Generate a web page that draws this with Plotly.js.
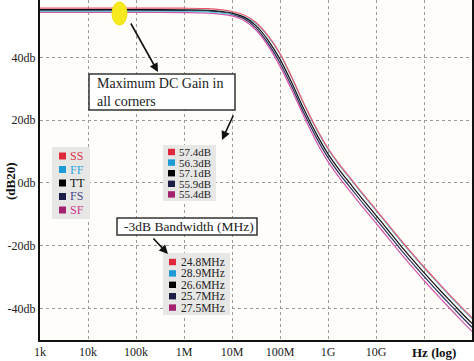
<!DOCTYPE html>
<html><head><meta charset="utf-8">
<script src="https://cdn.plot.ly/plotly-3.0.1.min.js"></script>
<style>html,body{margin:0;padding:0;background:#fff}#chart{width:474px;height:361px}</style>
</head><body><div id="chart"></div>
<script>
// ---- data ----
const freqHz = [1e3, 1e4, 1e5, 1e6, 3.16e6, 6.31e6, 1e7, 1.78e7, 3.16e7, 5.62e7, 1e8, 1.78e8, 3.16e8, 5.62e8, 1e9, 1.78e9, 3.16e9, 5.62e9, 1e10, 1.78e10, 3.16e10, 5.62e10, 1e11, 1.78e11, 3.16e11, 5.62e11, 1e12];
const gainSS = [55.8, 55.8, 55.8, 55.75, 55.6, 55.2, 54.7, 53.6, 51.2, 47.0, 41.3, 33.6, 25.3, 17.7, 11.1, 5.7, 0.9, -3.9, -8.5, -13.2, -17.9, -22.4, -26.8, -31.0, -35.1, -39.1, -43.0];
const gainFF = [54.8, 54.8, 54.8, 54.75, 54.6, 54.2, 53.9, 53.0, 50.95, 46.8, 41.1, 33.4, 25.1, 17.4, 10.8, 5.4, 0.6, -4.2, -8.8, -13.5, -18.2, -22.7, -27.1, -31.3, -35.4, -39.4, -43.3];
const gainTT = [55.3, 55.3, 55.3, 55.25, 55.1, 54.7, 54.2, 52.9, 50.2, 45.6, 39.5, 31.8, 23.5, 15.9, 9.3, 3.9, -0.9, -5.7, -10.3, -15.0, -19.7, -24.2, -28.6, -32.8, -36.9, -40.9, -44.8];
const gainFS = [55.0, 55.0, 55.0, 54.95, 54.8, 54.4, 53.8, 52.4, 49.5, 44.6, 38.3, 30.6, 22.3, 14.7, 8.1, 2.7, -2.1, -6.9, -11.5, -16.2, -20.9, -25.4, -29.8, -34.0, -38.1, -42.1, -46.0];
const gainSF = [54.4, 54.4, 54.4, 54.35, 54.2, 53.8, 53.3, 51.85, 48.8, 43.8, 37.2, 29.5, 21.2, 13.4, 6.8, 1.4, -3.4, -8.2, -12.8, -17.5, -22.2, -26.7, -31.1, -35.3, -39.4, -43.4, -47.3];

const corners = ['SS', 'FF', 'TT', 'FS', 'SF'];
const dcGainDB = [57.4, 56.3, 57.1, 55.9, 55.4];
const bandwidthMHz = [24.8, 28.9, 26.6, 25.7, 27.5];

const xTickVals = [1e3, 1e4, 1e5, 1e6, 1e7, 1e8, 1e9, 1e10, 1e11, 1e12];
const xTickText = ['1k', '10k', '100k', '1M', '10M', '100M', '1G', '10G', '', ''];
const yTickVals = [-40, -20, 0, 20, 40];
const yTickText = ['-40db', '-20db', '0db', '20db', '40db'];

// ---- styles ----
const lineColors = ['#e4566e', '#62c3d8', '#111111', '#2b2e60', '#d454a8'];
const squareColors = ['#e0283c', '#1e9ad6', '#000000', '#1b1f46', '#a3216f'];
const nameColors = ['#d8344a', '#2ea6dc', '#111111', '#4b4887', '#cc3a8c'];
const series = [gainSS, gainFF, gainTT, gainFS, gainSF];
const FONT = '"Liberation Serif", "Times New Roman", serif';

// plot-area pixel helpers (layout only)
const L = 40, R = 472, T = 0, B = 340;
const px = v => (v - L) / (R - L);
const py = v => (B - v) / (B - T);

const drawOrder = [4, 3, 1, 0, 2];
const traces = drawOrder.map(i => ({
  x: freqHz, y: series[i], type: 'scatter', mode: 'lines', name: corners[i],
  line: {color: lineColors[i], width: 1.2, shape: 'spline', smoothing: 0.8},
  hoverinfo: 'skip'
}));

const shapes = [];
const annotations = [];

function rect(x0, y0, x1, y1, fill, line, lw) {
  shapes.push({type: 'rect', xref: 'paper', yref: 'paper', x0: px(x0), x1: px(x1), y0: py(y1), y1: py(y0),
    fillcolor: fill, line: {color: line || 'rgba(0,0,0,0)', width: lw || 0}, layer: 'above'});
}
function text(x, y, t, color, size, extra) {
  annotations.push(Object.assign({xref: 'paper', yref: 'paper', x: px(x), y: py(y), text: t, showarrow: false,
    xanchor: 'left', yanchor: 'middle', borderpad: 0, font: {family: FONT, size: size || 12, color: color || '#222'}}, extra || {}));
}
function arrow(x0, y0, x1, y1) {
  annotations.push({xref: 'paper', yref: 'paper', x: px(x1), y: py(y1), ax: x0 - x1, ay: y0 - y1, text: '',
    showarrow: true, arrowhead: 2, arrowsize: 1.1, arrowwidth: 1.6, arrowcolor: '#111'});
}

// yellow marker ellipse
shapes.push({type: 'circle', xref: 'paper', yref: 'paper', x0: px(112), x1: px(127), y0: py(25), y1: py(2),
  fillcolor: '#f6ea1e', line: {color: '#f0e010', width: 1}, layer: 'above'});
arrow(130, 22, 158, 72);

// "Maximum DC Gain" box
rect(89, 74, 235, 110, '#ffffff', '#333', 1.5);
text(96, 92, 'Maximum DC Gain in<br>all corners', '#222', 14, {align: 'left'});
arrow(234, 114, 222, 140);

// corner legend
rect(52, 147, 90, 219, '#e7e7e6');
corners.forEach((c, i) => {
  const y = 156 + i * 13.5;
  rect(59, y - 3.5, 66, y + 3.5, squareColors[i]);
  text(69, y, c, nameColors[i], 12);
});

// DC gain legend
rect(163, 145, 216, 201, '#e7e7e6');
dcGainDB.forEach((g, i) => {
  const y = 152 + i * 10.6;
  rect(168, y - 3.2, 175, y + 3.2, squareColors[i]);
  text(178, y, g.toFixed(1) + 'dB', '#222', 11);
});

// -3dB bandwidth box
rect(117, 218, 257, 235, '#ffffff', '#333', 1.5);
text(123, 226.5, '-3dB Bandwidth (MHz)', '#222', 13.5);
arrow(152, 237, 168, 254);

// bandwidth legend
rect(163, 253, 230, 315, '#e7e7e6');
bandwidthMHz.forEach((b, i) => {
  const y = 262 + i * 11.4;
  rect(169, y - 3.2, 176, y + 3.2, squareColors[i]);
  text(180, y, b.toFixed(1) + 'MHz', '#222', 11.5);
});

// axis titles
text(434, 352, '<b>Hz (log)</b>', '#111', 13, {xanchor: 'center'});
annotations.push({xref: 'paper', yref: 'paper', x: px(10), y: py(181), text: '<b>(dB20)</b>', showarrow: false,
  textangle: -90, xanchor: 'center', yanchor: 'middle', font: {family: FONT, size: 13, color: '#111'}});

const layout = {
  width: 474, height: 361,
  margin: {l: L, r: 474 - R, t: T, b: 361 - B, pad: 0},
  paper_bgcolor: '#ffffff', plot_bgcolor: '#fefdf9',
  showlegend: false,
  xaxis: {type: 'log', range: [3, 12], tickvals: xTickVals, ticktext: xTickText, ticks: '',
    showgrid: true, gridcolor: '#9a9a9a', gridwidth: 1, griddash: 'dot',
    showline: true, linecolor: '#111', linewidth: 2, mirror: false, zeroline: false,
    tickfont: {family: FONT, size: 12, color: '#222'}},
  yaxis: {range: [-50.08, 58.37], tickvals: yTickVals, ticktext: yTickText, ticks: '',
    showgrid: true, gridcolor: '#9a9a9a', gridwidth: 1, griddash: 'dot',
    showline: true, linecolor: '#111', linewidth: 2, mirror: true, zeroline: false,
    tickfont: {family: FONT, size: 12, color: '#222'}},
  shapes: shapes, annotations: annotations
};

Plotly.newPlot('chart', traces, layout, {staticPlot: true, displayModeBar: false});
</script></body></html>
